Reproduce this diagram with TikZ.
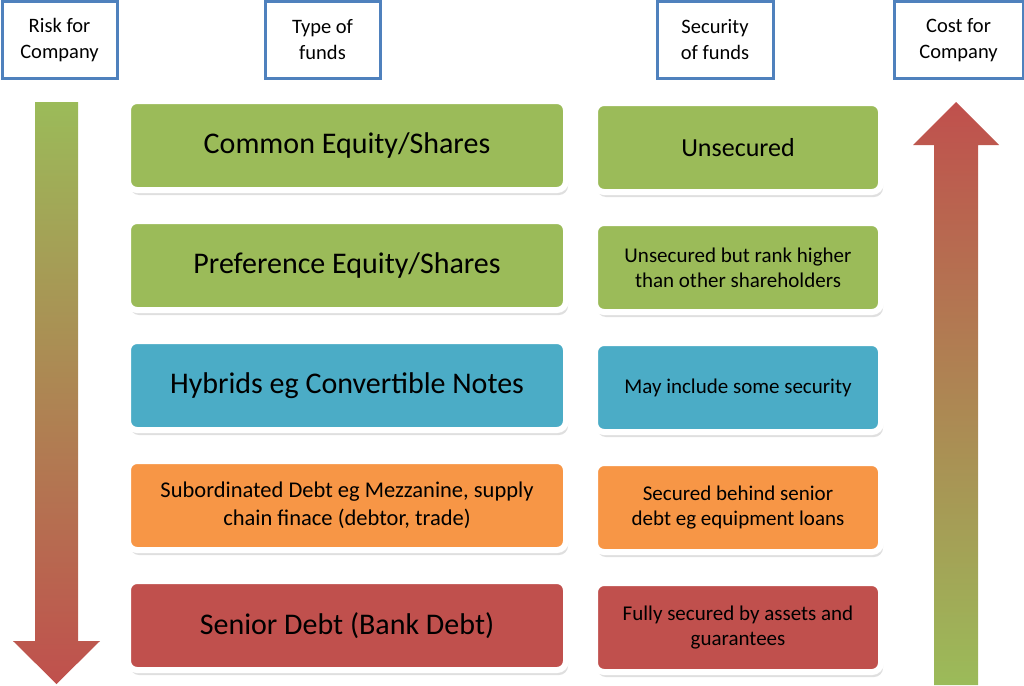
\documentclass[tikz,border=0pt]{standalone}
\usepackage{fontspec}
\setmainfont{Carlito}
\usetikzlibrary{positioning,shadows}
\definecolor{headblue}{HTML}{4F81BD}
\definecolor{fundgreen}{HTML}{9BBB59}
\definecolor{fundblue}{HTML}{4BACC6}
\definecolor{fundorange}{HTML}{F79646}
\definecolor{fundred}{HTML}{C0504D}
\begin{document}
\begin{tikzpicture}[x=1pt,y=1pt,node distance=25pt]
\tikzstyle{every node}=[font=\fontsize{21}{25}\selectfont]
\tikzstyle{header}=[draw=headblue, line width=3pt, align=center, minimum height=76pt, font=\fontsize{20.5}{26}\selectfont]
\tikzstyle{fund}=[draw=white, line width=6pt, rounded corners=9pt, minimum width=438pt, minimum height=89pt, align=center, drop shadow={shadow xshift=2pt, shadow yshift=-5pt, opacity=0.25}]
\tikzstyle{secure}=[fund, minimum width=286pt]
\tikzstyle{big}=[font=\fontsize{30}{34}\selectfont]
\useasboundingbox (0,0) rectangle (1024,-685);

% headers
\node (risk) [header, minimum width=115pt] at (59.5,-40) {Risk for\\Company};
\node (type) [header, minimum width=115pt] at (322.5,-40) {Type of\\funds};
\node (security) [header, minimum width=116pt] at (715,-40) {Security\\of funds};
\node (cost) [header, minimum width=129pt] at (958.5,-40) {Cost for\\Company};

% type of funds
\node (common) [fund, big, fill=fundgreen] at (347,-145.5) {Common Equity/Shares};
\node (pref) [fund, big, fill=fundgreen, below=of common] {Preference Equity/Shares};
\node (hybrid) [fund, big, fill=fundblue, below=of pref] {Hybrids eg Convertible Notes};
\node (subdebt) [fund, fill=fundorange, below=of hybrid, font=\fontsize{22.5}{28}\selectfont] {Subordinated Debt eg Mezzanine, supply\\chain finace (debtor, trade)};
\node (senior) [fund, big, fill=fundred, below=of subdebt] {Senior Debt (Bank Debt)};

% security of funds
\node (unsec) [secure, fill=fundgreen, right=23pt of common, yshift=-2pt, font=\fontsize{26}{30}\selectfont] {Unsecured};
\node (rank) [secure, fill=fundgreen, right=23pt of pref, yshift=-2pt] {Unsecured but rank higher\\than other shareholders};
\node (some) [secure, fill=fundblue, right=23pt of hybrid, yshift=-2pt] {May include some security};
\node (behind) [secure, fill=fundorange, right=23pt of subdebt, yshift=-2pt] {Secured behind senior\\debt eg equipment loans};
\node (fully) [secure, fill=fundred, right=23pt of senior, yshift=-2pt] {Fully secured by assets and\\guarantees};

% risk and cost arrows
\shade[top color=fundgreen, bottom color=fundred] (35,-102) -- (78,-102) -- (78,-641) -- (100,-641) -- (56.5,-684) -- (13,-641) -- (35,-641) -- cycle;
\shade[top color=fundred, bottom color=fundgreen] (956,-102) -- (999,-145) -- (978,-145) -- (978,-685) -- (934,-685) -- (934,-145) -- (913,-145) -- cycle;
\end{tikzpicture}
\end{document}
